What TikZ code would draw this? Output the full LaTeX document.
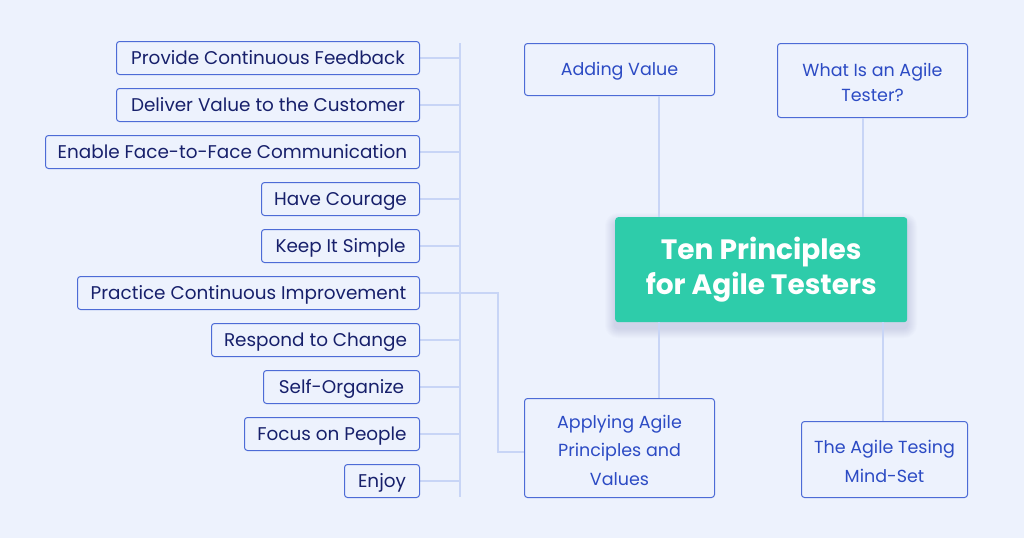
\documentclass[tikz,border=0pt]{standalone}
\usepackage{fontspec}
\setmainfont{Poppins}
\definecolor{bg}{HTML}{EDF2FD}
\definecolor{boxline}{HTML}{4D6BD6}
\definecolor{navy}{HTML}{17206B}
\definecolor{bluetext}{HTML}{2C4BC4}
\definecolor{conn}{HTML}{C8D5F6}
\definecolor{teal}{HTML}{2ECCAA}
\definecolor{shadowc}{HTML}{5A6A9A}
\tikzset{
  lbox/.style={draw=boxline, line width=1pt, rounded corners=3pt, fill=bg, anchor=east,
    minimum height=33pt, inner sep=0pt, text=navy, text height=17.5pt, text depth=4pt,
    font=\fontsize{18.4}{22}\selectfont},
  rframe/.style={draw=boxline, line width=1pt, rounded corners=3pt, fill=bg, anchor=north west,
    inner sep=0pt},
  rtext/.style={text=bluetext, align=center, inner sep=0pt, font=\fontsize{17.5}{28.5}\selectfont, yshift=-2pt},
  conline/.style={draw=conn, line width=1.2pt},
}
\begin{document}
\begin{tikzpicture}[x=1pt,y=-1pt]
\fill[bg] (0,0) rectangle (1024,538);
\useasboundingbox (0,0) rectangle (1024,538);
% spine
\coordinate (spt) at (460,43);
\coordinate (spb) at (460,497);
\draw[conline] (spt) -- (spb);
% left boxes
\foreach \n/\y/\l/\t in {
  a/58/117/Provide Continuous Feedback,
  b/105/117/Deliver Value to the Customer,
  c/152/46/Enable Face-to-Face Communication,
  d/199/262/Have Courage,
  e/246/262/Keep It Simple,
  f/293/78/Practice Continuous Improvement,
  g/340/212/Respond to Change,
  h/387/264/Self-Organize,
  i/434/245/Focus on People,
  j/481/345/Enjoy}{
  \pgfmathsetmacro{\w}{420-\l}
  \coordinate (s\n) at (460,\y);
  \draw[conline] (420,\y) -- (s\n);
  \node[lbox, minimum width=\w pt] (\n) at (420,\y) {\t};
}
% right boxes
\node[rframe, minimum width=190pt, minimum height=52pt] (add) at (524,43) {};
\node[rtext] (addt) at (add.center) {Adding Value};
\node[rframe, minimum width=190pt, minimum height=74pt] (what) at (777,43) {};
\node[rtext, font=\fontsize{17.5}{25}\selectfont] (whatt) at (what.center) {What Is an Agile\\Tester?};
\node[rframe, minimum width=190pt, minimum height=99pt] (apply) at (524,398) {};
\node[rtext] (applyt) at (apply.center) {Applying Agile\\Principles and\\Values};
\node[rframe, minimum width=166pt, minimum height=76pt] (mind) at (801,421) {};
\node[rtext] (mindt) at (mind.center) {The Agile Tesing\\Mind-Set};
% connector coordinates
\coordinate (c1) at (498,293);
\coordinate (c2) at (498,452);
\coordinate (x1) at (659,0);
\coordinate (x2) at (863,0);
\coordinate (x3) at (883,0);
% shadow
\foreach \i in {1,...,10}{
  \fill[shadowc, opacity=0.018, rounded corners=3pt+\i pt]
    (615-\i,223-\i) rectangle (907+\i,328+\i);
}
% center
\node[fill=teal, rounded corners=3pt, anchor=north west, minimum width=292pt, minimum height=105pt,
  inner sep=0pt, text=white, align=center, font=\bfseries\fontsize{28}{35}\selectfont]
  (center) at (615,217) {Ten Principles\\for Agile Testers};
% connectors
\draw[conline] (sf) -- (c1) -- (c2) -- (apply.west |- c2);
\draw[conline] (add.south -| x1) -- (center.north -| x1);
\draw[conline] (what.south -| x2) -- (center.north -| x2);
\draw[conline] (center.south -| x1) -- (apply.north -| x1);
\draw[conline] (center.south -| x3) -- (mind.north -| x3);
\end{tikzpicture}
\end{document}
